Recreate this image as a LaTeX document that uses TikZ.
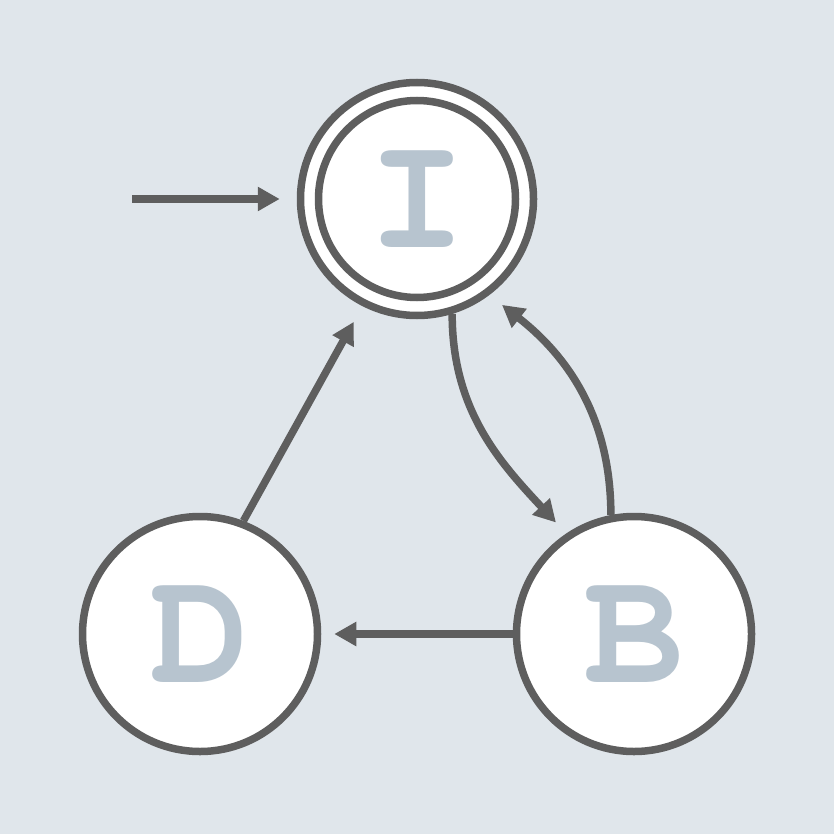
\documentclass[tikz,border=0pt]{standalone}
\usepackage{fontspec}
\newfontfamily\statefont{TeX Gyre Cursor}
\usetikzlibrary{arrows.meta}
\definecolor{bgcol}{HTML}{E0E6EB}
\definecolor{strokecol}{HTML}{5E5E5E}
\definecolor{textcol}{HTML}{B7C4CF}
\tikzset{
  statenode/.style={circle,draw=strokecol,line width=7.5pt,fill=white,inner sep=0pt,
    text=textcol,font=\fontsize{166}{166}\selectfont\statefont\bfseries},
  edgeline/.style={draw=strokecol,line width=7.5pt,-{Triangle[length=22pt,width=23pt]}}
}
\begin{document}
\begin{tikzpicture}[x=1pt,y=-1pt]
\fill[bgcol] (0,0) rectangle (834,834);
\useasboundingbox (0,0) rectangle (834,834);
\node[statenode,minimum size=233pt] (IO) at (417,199) {};
\node[statenode,minimum size=197pt] (I) at (417,199) {I};
\node[statenode,minimum size=235pt] (D) at (200,634) {D};
\node[statenode,minimum size=235pt] (B) at (634,634) {B};
\coordinate (start) at (132,199);
\draw[edgeline,shorten >=17pt] (start) -- (IO.west);
\draw[edgeline,shorten >=15pt] (IO.-73) to[out=-90,in=133] (B.124);
\draw[edgeline,shorten >=16pt] (B.101) to[out=90,in=-38] (IO.-53);
\draw[edgeline,shorten >=18pt] (D.69) -- (IO.-117);
\draw[edgeline,shorten >=13pt] (B.west) -- (D.east);
\end{tikzpicture}
\end{document}
